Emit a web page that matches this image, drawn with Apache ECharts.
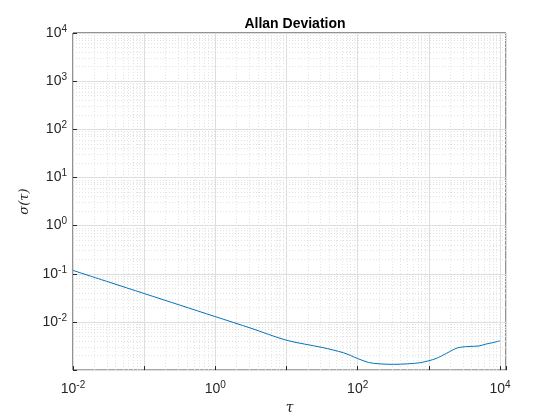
<!DOCTYPE html>
<html>
<head>
<meta charset="utf-8">
<script src="https://cdn.jsdelivr.net/npm/echarts@6/dist/echarts.min.js"></script>
<style>html,body{margin:0;background:#fff}#main{width:560px;height:420px}</style>
</head>
<body>
<div id="main"></div>
<script>
// log10(tau) and log10(sigma)
var logTau = [-2, -1.5, -1, -0.5, 0, 0.5, 1, 1.5, 1.8, 2, 2.15, 2.3, 2.5, 2.7, 2.9, 3.1, 3.25, 3.4, 3.55, 3.7, 3.8, 3.9, 4];
var logSigma = [-0.93, -1.17, -1.41, -1.65, -1.89, -2.13, -2.38, -2.53, -2.64, -2.76, -2.84, -2.87, -2.88, -2.87, -2.84, -2.76, -2.65, -2.54, -2.51, -2.50, -2.46, -2.43, -2.39];
var xMin = -2, xMax = 4.084, yMin = -3, yMax = 4;

var chart = echarts.init(document.getElementById('main'));

var lineData = logTau.map(function (t, i) { return [t, logSigma[i]]; });

// dotted minor grid at 2..9 x 10^d
var minorLines = [];
for (var d = -2; d < 5; d++) {
  for (var k = 2; k <= 9; k++) {
    var v = d + Math.log10(k);
    if (v < xMax) minorLines.push({ xAxis: v });
  }
}
for (var d2 = -3; d2 < 4; d2++) {
  for (var k2 = 2; k2 <= 9; k2++) {
    minorLines.push({ yAxis: d2 + Math.log10(k2) });
  }
}

function pow10(v) {
  return '{b|10}{s|' + (v < 0 ? '-' : '') + Math.abs(v) + '}';
}
var rich = { b: { fontSize: 14, color: '#262626' }, s: { fontSize: 10, color: '#262626', verticalAlign: 'top', padding: [0, 0, 8, 0] } };

var option = {
  animation: false,
  title: {
    text: 'Allan Deviation', left: 290, top: 12, textAlign: 'center',
    textStyle: { fontFamily: 'Liberation Sans', fontSize: 14, fontWeight: 'bold', color: '#000' }
  },
  grid: { left: 73, right: 54, top: 33, bottom: 47, show: true, borderColor: '#262626', borderWidth: 1 },
  xAxis: {
    type: 'value', min: xMin, max: xMax, interval: 1,
    name: 'τ', nameLocation: 'middle', nameGap: 30,
    nameTextStyle: { fontFamily: 'DejaVu Serif', fontStyle: 'italic', fontSize: 14, color: '#262626' },
    axisLine: { show: false, onZero: false }, axisTick: { inside: true, length: 4, lineStyle: { color: '#262626' } },
    axisLabel: { margin: 10, rich: rich, fontFamily: 'Liberation Sans',
      formatter: function (v) { return (v % 2 === 0) ? pow10(v) : ''; } },
    splitLine: { lineStyle: { color: '#dedede' } }
  },
  yAxis: {
    type: 'value', min: yMin, max: yMax, interval: 1,
    name: 'σ(τ)', nameLocation: 'middle', nameGap: 42,
    nameTextStyle: { fontFamily: 'DejaVu Serif', fontStyle: 'italic', fontSize: 13, color: '#262626' },
    axisLine: { show: false, onZero: false }, axisTick: { inside: true, length: 4, lineStyle: { color: '#262626' } },
    axisLabel: { margin: 6, rich: rich, fontFamily: 'Liberation Sans',
      formatter: function (v) { return v === yMin ? '' : pow10(v); } },
    splitLine: { lineStyle: { color: '#dedede' } }
  },
  series: [
    {
      type: 'line', data: [], silent: true,
      markLine: { silent: true, symbol: 'none', label: { show: false },
        lineStyle: { color: '#e2e2e2', type: [1, 2], width: 1 }, data: minorLines }
    },
    {
      type: 'line', data: lineData, smooth: 0.3, showSymbol: false,
      lineStyle: { color: '#0072BD', width: 1 }, z: 5
    }
  ]
};
chart.setOption(option);
</script>
</body>
</html>
